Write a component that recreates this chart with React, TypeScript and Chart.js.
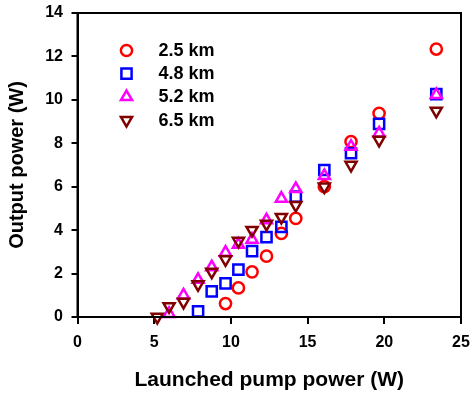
import React, { useEffect, useRef } from "react";
import { Chart, registerables } from "chart.js";

Chart.register(...registerables);

// Launched pump power (W)
const pumpPower = [5.2, 5.97, 6.91, 7.86, 8.75, 9.65, 10.49, 11.38, 12.32, 13.29, 14.23, 16.09, 17.83, 19.66, 23.39];

// Output power (W) per fibre length
const out25 = [null, null, null, null, null, 0.62, 1.34, 2.08, 2.8, 3.85, 4.54, 6.0, 8.08, 9.38, 12.34];
const out48 = [null, null, null, 0.26, 1.18, 1.55, 2.18, 3.03, 3.68, 4.15, 5.54, 6.77, 7.54, 8.89, 10.26];
const out52 = [null, 0.15, 1.0, 1.72, 2.3, 2.97, 3.34, 3.57, 4.46, 5.46, 5.9, 6.5, 7.85, 8.46, 10.23];
const out65 = [0.0, 0.49, 0.69, 1.5, 2.08, 2.65, 3.5, 4.0, 4.28, 4.6, 5.15, 6.0, 7.0, 8.15, 9.49];

const seriesLabels = ["2.5 km", "4.8 km", "5.2 km", "6.5 km"];
const xTicks = [0, 5, 10, 15, 20, 25];
const yTicks = [0, 2, 4, 6, 8, 10, 12, 14];

const FONT = "'Liberation Sans', Arial, sans-serif";

type Style = { color: string; pointStyle: string; radius: number; rotation: number };
const styles: Style[] = [
  { color: "#ff0000", pointStyle: "circle", radius: 5.6, rotation: 0 },
  { color: "#0000ff", pointStyle: "rect", radius: 7.2, rotation: 0 },
  { color: "#ff00ff", pointStyle: "triangle", radius: 6.4, rotation: 0 },
  { color: "#800000", pointStyle: "triangle", radius: 6.4, rotation: 180 },
];

function toPoints(vals: (number | null)[]) {
  const pts: { x: number; y: number }[] = [];
  vals.forEach((v, i) => {
    if (v !== null) pts.push({ x: pumpPower[i], y: v });
  });
  return pts;
}

function drawMarker(ctx: CanvasRenderingContext2D, s: Style, x: number, y: number) {
  ctx.beginPath();
  const r = s.radius;
  if (s.pointStyle === "circle") {
    ctx.arc(x, y, r, 0, Math.PI * 2);
  } else if (s.pointStyle === "rect") {
    const h = Math.SQRT1_2 * r;
    ctx.rect(x - h, y - h, 2 * h, 2 * h);
  } else {
    let rad = (s.rotation * Math.PI) / 180;
    ctx.moveTo(x + Math.sin(rad) * r, y - Math.cos(rad) * r);
    rad += (2 * Math.PI) / 3;
    ctx.lineTo(x + Math.sin(rad) * r, y - Math.cos(rad) * r);
    rad += (2 * Math.PI) / 3;
    ctx.lineTo(x + Math.sin(rad) * r, y - Math.cos(rad) * r);
    ctx.closePath();
  }
  ctx.strokeStyle = s.color;
  ctx.lineWidth = 2.5;
  ctx.stroke();
}

const framePlugin = {
  id: "frameAndLegend",
  afterDraw(chart: any) {
    const { ctx, chartArea } = chart;
    ctx.save();
    ctx.strokeStyle = "#000";
    ctx.lineWidth = 2;
    ctx.strokeRect(chartArea.left, chartArea.top, chartArea.right - chartArea.left, chartArea.bottom - chartArea.top);
    // legend
    const mx = chartArea.left + 49;
    const tx = chartArea.left + 81;
    let y = chartArea.top + 37.5;
    ctx.font = `bold 18px ${FONT}`;
    ctx.textBaseline = "middle";
    ctx.textAlign = "left";
    ctx.fillStyle = "#000";
    seriesLabels.forEach((lab, i) => {
      drawMarker(ctx, styles[i], mx, y);
      ctx.fillText(lab, tx, y + 0.5);
      y += 23.2;
    });
    ctx.restore();
  },
};

export default function App() {
  const ref = useRef<HTMLCanvasElement>(null);
  useEffect(() => {
    document.body.style.margin = "0";
    const all = [out25, out48, out52, out65];
    const chart = new Chart(ref.current as HTMLCanvasElement, {
      type: "scatter",
      data: {
        datasets: all.map((vals, i) => ({
          label: seriesLabels[i],
          data: toPoints(vals),
          pointStyle: styles[i].pointStyle as any,
          pointRadius: styles[i].radius,
          pointRotation: styles[i].rotation,
          pointBorderWidth: 2.5,
          borderColor: styles[i].color,
          backgroundColor: "rgba(0,0,0,0)",
          pointBackgroundColor: "rgba(0,0,0,0)",
          clip: false as any,
          order: 4 - i,
        })),
      },
      options: {
        animation: false,
        responsive: false,
        devicePixelRatio: 1,
        layout: { padding: { top: 13, right: 13, left: 0, bottom: 0 } },
        plugins: { legend: { display: false }, tooltip: { enabled: false } },
        scales: {
          x: {
            type: "linear",
            min: 0,
            max: 25,
            afterBuildTicks: (axis: any) => {
              axis.ticks = xTicks.map((v) => ({ value: v }));
            },
            afterFit: (scale: any) => {
              scale.height = 78;
              scale.paddingLeft = 0;
              scale.paddingRight = 0;
            },
            grid: { display: true, drawOnChartArea: false, drawTicks: true, tickLength: 7, color: "#000", lineWidth: 2 },
            border: { display: true, color: "#000", width: 2 },
            ticks: { color: "#000", padding: 9, font: { family: FONT, size: 16, weight: "bold" }, maxRotation: 0 },
            title: {
              display: true,
              text: "Launched pump power (W)",
              color: "#000",
              font: { family: FONT, size: 21, weight: "bold" },
              padding: { top: 0, bottom: 2.4 },
            },
          },
          y: {
            type: "linear",
            min: 0,
            max: 14,
            afterBuildTicks: (axis: any) => {
              axis.ticks = yTicks.map((v) => ({ value: v }));
            },
            afterFit: (scale: any) => {
              scale.width = 77.5;
              scale.paddingTop = 0;
              scale.paddingBottom = 0;
            },
            grid: { display: true, drawOnChartArea: false, drawTicks: true, tickLength: 6, color: "#000", lineWidth: 2 },
            border: { display: true, color: "#000", width: 2 },
            ticks: { color: "#000", padding: 8.5, font: { family: FONT, size: 16, weight: "bold" } },
            title: {
              display: true,
              text: "Output power (W)",
              color: "#000",
              font: { family: FONT, size: 20, weight: "bold" },
              padding: { top: 5, bottom: 0 },
            },
          },
        },
      },
      plugins: [framePlugin],
    });
    return () => chart.destroy();
  }, []);
  return (
    <div style={{ position: "absolute", left: 0, top: 0, width: 474, height: 395 }}>
      <canvas ref={ref} width={474} height={395} />
    </div>
  );
}
